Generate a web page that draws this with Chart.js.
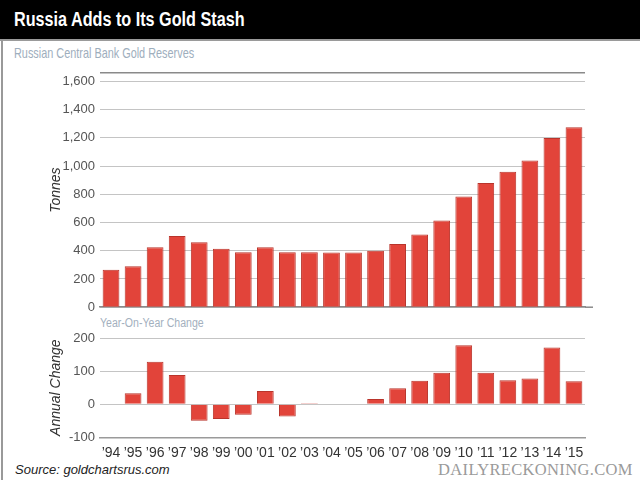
<!DOCTYPE html>
<html>
<head>
<meta charset="utf-8">
<script src="https://cdn.jsdelivr.net/npm/chart.js@4"></script>
<style>
  body { margin: 0; width: 640px; height: 480px; background: #fff; position: relative; overflow: hidden; font-family: "Liberation Sans", Arial, sans-serif; }
  .band { position: absolute; left: 0; top: 0; width: 640px; height: 39px; background: #000; }
  .band h1 { margin: 0; position: absolute; left: 14px; top: 8px; color: #fff; font: bold 19.5px "Liberation Sans", sans-serif; transform: scaleX(0.83); transform-origin: 0 0; white-space: nowrap; }
  .rule { position: absolute; left: 0; top: 39px; width: 640px; height: 2px; background: #9a9a9a; }
  .edge { position: absolute; left: 1px; top: 39px; width: 2px; height: 441px; background: #999; }
  .label { position: absolute; white-space: nowrap; transform-origin: 0 0; }
  canvas { position: absolute; left: 0; }
</style>
</head>
<body>
<div class="band"><h1>Russia Adds to Its Gold Stash</h1></div>
<div class="rule"></div>
<div class="edge"></div>
<div class="label" style="left:14px;top:45px;color:#9eaebd;font:14.5px 'Liberation Sans',sans-serif;transform:scaleX(0.75);">Russian Central Bank Gold Reserves</div>
<div class="label" style="left:100px;top:316px;color:#a3b0be;font:12px 'Liberation Sans',sans-serif;transform:scaleX(0.88);">Year-On-Year Change</div>
<div class="label" style="left:15px;top:462px;color:#222;font:italic 13px 'Liberation Sans',sans-serif;">Source: goldchartsrus.com</div>
<div class="label" style="left:438px;top:460px;color:#9a9a9a;font:16.5px 'Liberation Serif',serif;letter-spacing:0.35px;">DAILYRECKONING.COM</div>
<canvas id="top" width="640" height="260" style="top:60px;width:640px;height:260px"></canvas>
<canvas id="bottom" width="640" height="160" style="top:320px;width:640px;height:160px"></canvas>
<script>
const years = ['94','95','96','97','98','99','00','01','02','03','04','05','06','07','08','09','10','11','12','13','14','15'];
const reserves = [265, 290, 425, 505, 460, 415, 390, 425, 390, 390, 388, 388, 400, 448, 515, 615, 785, 880, 960, 1040, 1200, 1275];
const annualChange = [null, 33, 128, 88, -50, -45, -32, 40, -37, 3, -2, 0, 16, 48, 71, 95, 178, 95, 72, 78, 171, 69];
const reserveTicks = [0, 200, 400, 600, 800, 1000, 1200, 1400, 1600];
const changeTicks = [-100, 0, 100, 200];

const labels = years.map(y => '\u2019' + y);
const barRed = '#e2443a';
const barEdge = '#b9342b';
const tickFont = { family: 'Liberation Sans', size: 13 };

// baseline of the top chart runs a little past the grid
const baselineExtra = {
  id: 'baselineExtra',
  afterDraw(chart) {
    const a = chart.chartArea, ctx = chart.ctx;
    ctx.save();
    ctx.strokeStyle = '#8a8a8a';
    ctx.lineWidth = 1.5;
    ctx.beginPath();
    ctx.moveTo(a.right, a.bottom);
    ctx.lineTo(a.right + 8, a.bottom);
    ctx.stroke();
    ctx.restore();
  }
};

new Chart(document.getElementById('top'), {
  type: 'bar',
  data: {
    labels: labels,
    datasets: [{
      data: reserves,
      backgroundColor: barRed,
      borderColor: barEdge,
      borderWidth: 1,
      barPercentage: 0.76,
      categoryPercentage: 1
    }]
  },
  options: {
    responsive: false,
    animation: false,
    layout: { padding: { top: 13, right: 55, left: 48, bottom: 0 } },
    plugins: { legend: { display: false }, tooltip: { enabled: false } },
    scales: {
      x: {
        grid: { display: false, drawTicks: false },
        border: { color: '#8a8a8a', width: 1.5 },
        ticks: { display: false },
        afterFit: s => { s.height = 12; }
      },
      y: {
        min: 0,
        max: 1660,
        afterBuildTicks: s => { s.ticks = reserveTicks.concat([1660]).map(v => ({ value: v })); },
        grid: {
          drawTicks: false,
          color: c => c.tick && c.tick.value === 1660 ? '#8a8a8a' : '#c4c4c4',
          lineWidth: c => c.tick && c.tick.value === 1660 ? 1.5 : 1
        },
        border: { display: false },
        ticks: {
          padding: 5,
          color: '#555',
          font: tickFont,
          callback: v => v === 1660 ? '' : v.toLocaleString('en-US')
        },
        title: { display: true, text: 'Tonnes', color: '#333', padding: 0, font: { family: 'Liberation Sans', size: 14, style: 'italic' } },
        afterFit: s => { s.width = 52; }
      }
    }
  },
  plugins: [baselineExtra]
});

new Chart(document.getElementById('bottom'), {
  type: 'bar',
  data: {
    labels: labels,
    datasets: [{
      data: annualChange,
      backgroundColor: barRed,
      borderColor: barEdge,
      borderWidth: 1,
      barPercentage: 0.76,
      categoryPercentage: 1
    }]
  },
  options: {
    responsive: false,
    animation: false,
    layout: { padding: { top: 18, right: 55, left: 48, bottom: 0 } },
    plugins: { legend: { display: false }, tooltip: { enabled: false } },
    scales: {
      x: {
        grid: { display: false, drawTicks: false },
        border: { color: '#9a9a9a', width: 1.5 },
        ticks: { padding: 7, color: '#333', maxRotation: 0, autoSkip: false, font: { family: 'Liberation Sans', size: 14 } },
        afterFit: s => { s.height = 42.7; }
      },
      y: {
        min: -100,
        max: 200,
        afterBuildTicks: s => { s.ticks = changeTicks.map(v => ({ value: v })); },
        grid: { drawTicks: false, color: '#c4c4c4' },
        border: { display: false },
        ticks: { padding: 5, color: '#555', font: tickFont },
        title: { display: true, text: 'Annual Change', color: '#333', padding: 0, font: { family: 'Liberation Sans', size: 14, style: 'italic' } },
        afterFit: s => { s.width = 52; }
      }
    }
  }
});
</script>
</body>
</html>
